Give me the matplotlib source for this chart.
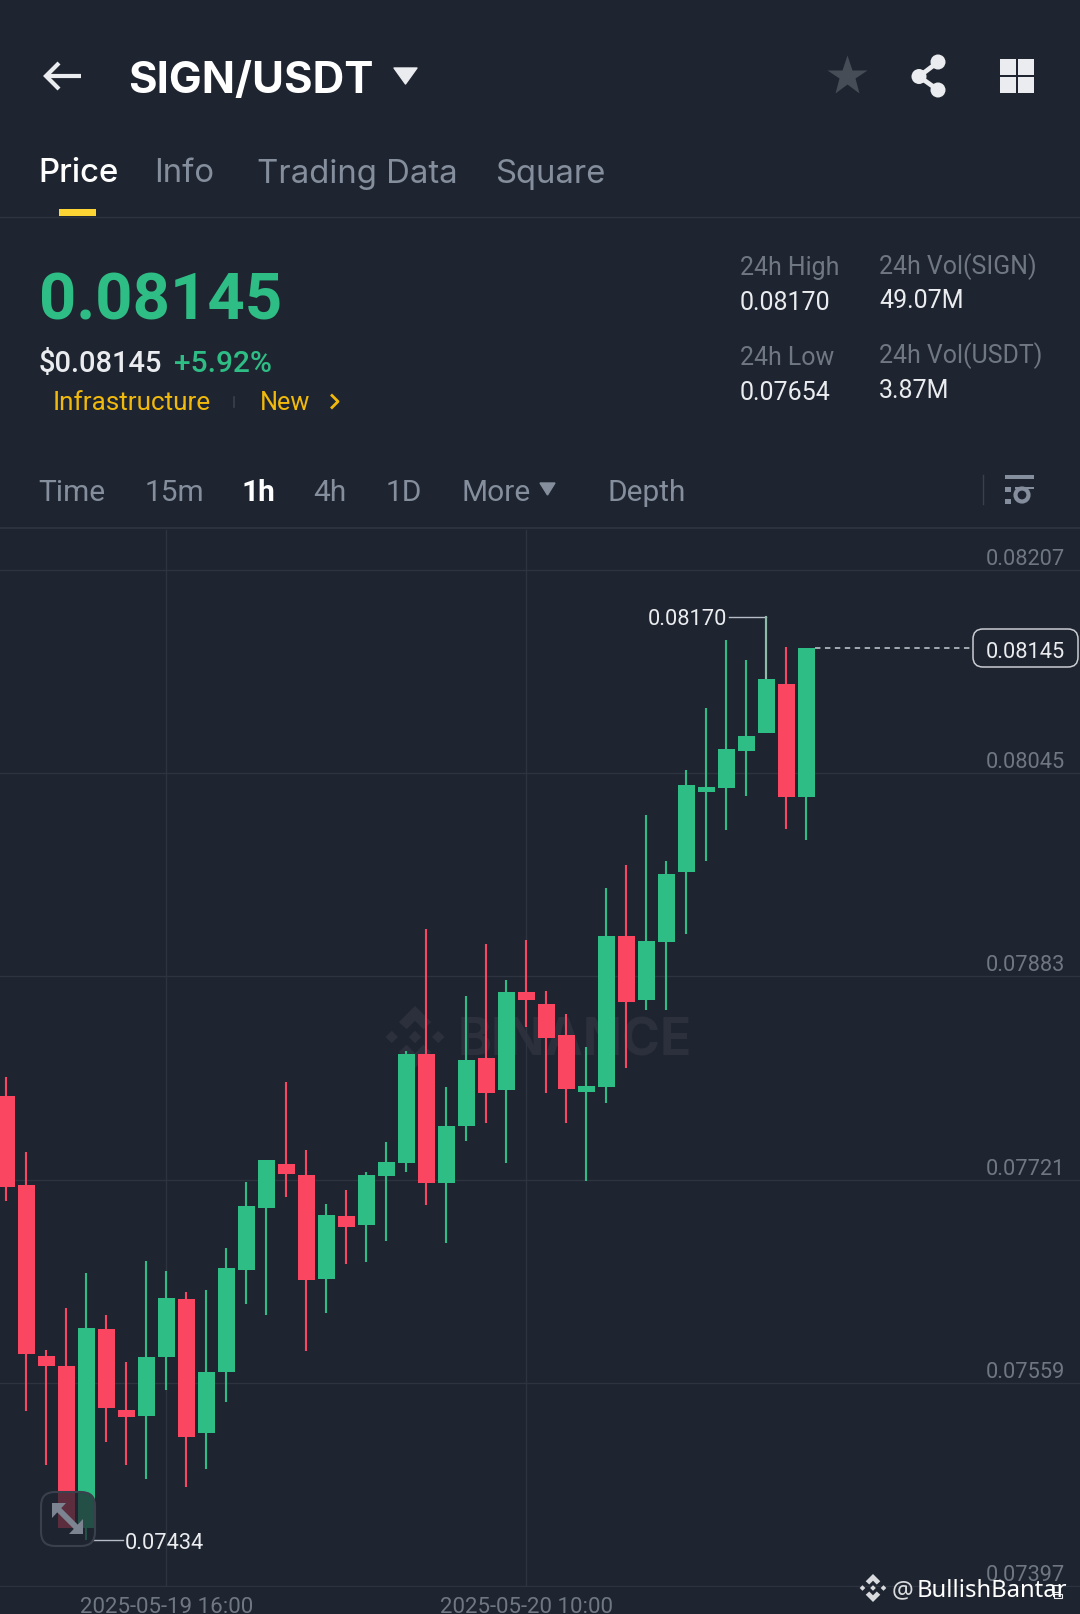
import matplotlib
matplotlib.use("Agg")
import matplotlib.pyplot as plt
from matplotlib.patches import FancyBboxPatch, Polygon, Circle, Rectangle

plt.rcParams["font.family"] = ["Roboto", "DejaVu Sans"]

W, H = 1080, 1614
BG = "#1F2530"
GRID = "#2E343F"
GREEN = "#2EBD85"
RED = "#FB4661"
GRAY = "#848E9C"
TICK = "#6F7782"
WHITE = "#EAECEF"
YELLOW = "#F0B90B"

# hourly candles
opens = [0.077879, 0.077169, 0.075806, 0.075726, 0.074435, 0.076017, 0.075375, 0.075328, 0.075798,
         0.076260, 0.075188, 0.075678, 0.076492, 0.076986, 0.077337, 0.077249, 0.076420, 0.076918,
         0.076850, 0.077241, 0.077345, 0.078208, 0.077185, 0.077640, 0.078182, 0.077921, 0.078710,
         0.078612, 0.078367, 0.077911, 0.077950, 0.079149, 0.078644, 0.079104, 0.079662, 0.080302,
         0.080334, 0.080631, 0.080772, 0.081166, 0.080262]
closes = [0.077153, 0.075822, 0.075726, 0.074435, 0.076029, 0.075391, 0.075320, 0.075798, 0.076268,
          0.075160, 0.075678, 0.076507, 0.076998, 0.077369, 0.077257, 0.076412, 0.076926, 0.076834,
          0.077249, 0.077352, 0.078208, 0.077185, 0.077640, 0.078168, 0.077903, 0.078710, 0.078644,
          0.078341, 0.077935, 0.077958, 0.079149, 0.078630, 0.079109, 0.079651, 0.080360, 0.080342,
          0.080647, 0.080749, 0.081205, 0.080262, 0.081450]
highs = [0.078030, 0.077428, 0.075854, 0.076189, 0.076468, 0.076129, 0.075758, 0.076559, 0.076484,
         0.076316, 0.076332, 0.076667, 0.077193, 0.077369, 0.077990, 0.077448, 0.077018, 0.077129,
         0.077273, 0.077509, 0.078237, 0.079210, 0.077950, 0.078678, 0.079090, 0.078803, 0.079117,
         0.078718, 0.078527, 0.078269, 0.079539, 0.079720, 0.080119, 0.079747, 0.080480, 0.080972,
         0.081514, 0.081355, 0.081700, 0.081460, 0.081450]
lows = [0.077042, 0.075367, 0.074937, 0.074435, 0.074340, 0.075120, 0.074937, 0.074821, 0.075530,
        0.074762, 0.074905, 0.075439, 0.076220, 0.076129, 0.077074, 0.075846, 0.076149, 0.076539,
        0.076551, 0.076723, 0.077273, 0.077010, 0.076707, 0.077520, 0.077663, 0.077339, 0.078431,
        0.077903, 0.077663, 0.077201, 0.077823, 0.078102, 0.078564, 0.078564, 0.079170, 0.079752,
        0.079999, 0.080270, 0.080772, 0.080002, 0.079920]

price_ticks = [0.08207, 0.08045, 0.07883, 0.07721, 0.07559, 0.07397]
date_idx = [8, 26]
date_labels = ["2025-05-19 16:00", "2025-05-20 10:00"]
last_price = 0.08145
high_price = 0.08170
low_price = 0.07434
high_idx = 38
low_idx = 4
last_idx = 40


def px_axes(zorder):
    a = fig.add_axes([0, 0, 1, 1], zorder=zorder)
    a.set_xlim(0, W)
    a.set_ylim(H, 0)
    a.axis("off")
    a.patch.set_alpha(0)
    return a


def binance_logo(a, cx, cy, r, color, zorder=3):
    # three small diamonds and two chevrons
    for dx in (-0.75, 0, 0.75):
        d = 0.2
        a.add_patch(Polygon([(cx + (dx - d) * r, cy), (cx + dx * r, cy - d * r),
                             (cx + (dx + d) * r, cy), (cx + dx * r, cy + d * r)],
                            fc=color, ec="none", zorder=zorder))
    for s in (-1, 1):
        pts = [(0, 1), (0.52, 0.48), (0.27, 0.25), (0, 0.52), (-0.27, 0.25), (-0.52, 0.48)]
        a.add_patch(Polygon([(cx + x * r, cy + s * y * r) for x, y in pts], fc=color, ec="none", zorder=zorder))


fig = plt.figure(figsize=(W / 100, H / 100), dpi=100, facecolor=BG)

# watermark sits under the candles
back = px_axes(0)
back.set_facecolor(BG)
binance_logo(back, 415, 1037, 31, "#2B303C")
back.text(458, 1055, "BINANCE", color="#2B303C", fontsize=37, family="Inter", fontweight="bold",
          va="baseline", ha="left")

# chart
top_px, bottom_px = 530, 1586
ax = fig.add_axes([0, 1 - bottom_px / H, 1, (bottom_px - top_px) / H], zorder=1)
ax.patch.set_alpha(0)
for name, sp in ax.spines.items():
    sp.set_visible(name == "bottom")
    sp.set_color(GRID)
xs = list(range(len(opens)))
colors = [GREEN if c >= o else RED for o, c in zip(opens, closes)]
ax.vlines(xs, lows, highs, colors=colors, linewidth=1.5, zorder=3)
ax.bar(xs, [abs(c - o) for o, c in zip(opens, closes)], bottom=[min(o, c) for o, c in zip(opens, closes)],
       width=0.87, color=colors, linewidth=0, zorder=3)
ax.set_xlim(-0.315, 53.685)
ax.set_ylim(0.07397, 0.08239)
ax.set_yticks(price_ticks)
ax.set_yticklabels([f"{p:.5f}" for p in price_ticks], fontsize=15.7, color=TICK, ha="right", va="bottom")
ax.yaxis.tick_right()
ax.tick_params(axis="y", length=0, pad=-11)
ax.set_xticks(date_idx)
ax.set_xticklabels(date_labels, fontsize=16, color=TICK)
ax.tick_params(axis="x", length=0, pad=8)
ax.grid(True, color=GRID, linewidth=1, zorder=0)

# high / low / last markers
ax.plot([high_idx - 1.85, high_idx], [high_price, high_price], color="#B7BDC6", lw=1, zorder=4)
ax.plot([high_idx, high_idx], [high_price, highs[high_idx] - 0.00049], color="#8FB9A8", lw=1.5, zorder=4)
ax.annotate(f"{high_price:.5f}", (high_idx - 1.98, high_price), xytext=(0, -6), textcoords="offset points",
            color=WHITE, fontsize=15.7, ha="right", va="baseline")
ax.plot([low_idx + 0.3, low_idx + 1.55 + 0.3], [low_price, low_price], color="#B7BDC6", lw=1, zorder=4)
ax.plot([last_idx + 0.45, last_idx + 8.2], [last_price, last_price], color="#AEB4BC", lw=1.3,
        ls=(0, (3, 2.5)), zorder=4)

ui = px_axes(2)

# price box on the right
ui.add_patch(FancyBboxPatch((973, 629), 105, 38, boxstyle="round,pad=0,rounding_size=10", fc=BG, ec="#C9CCD1", lw=1.1))
ui.text(1025, 657.5, f"{last_price:.5f}", color=WHITE, fontsize=15.7, ha="center", va="baseline")

# expand button over the first candles
ui.add_patch(FancyBboxPatch((41, 1492), 54, 54, boxstyle="round,pad=0,rounding_size=14",
                            fc=(0.12, 0.145, 0.19, 0.72), ec="#3A404C", lw=1.5))
ui.plot([58, 77], [1509, 1528], color="#7D8491", lw=4.2, solid_capstyle="butt")
ui.add_patch(Polygon([(52, 1503), (66, 1503), (52, 1518)], fc="#7D8491", ec="none"))
ui.add_patch(Polygon([(83, 1534), (69, 1534), (83, 1519)], fc="#7D8491", ec="none"))
ui.text(125, 1549, f"{low_price:.5f}", color=WHITE, fontsize=15.7, ha="left", va="baseline")

# header
ui.plot([47, 81], [76, 76], color=WHITE, lw=3, solid_capstyle="butt")
ui.plot([59, 46, 59], [63, 76, 89], color=WHITE, lw=3, solid_joinstyle="miter", solid_capstyle="butt")
ui.text(128, 93, "SIGN/USDT", color="white", fontsize=31.5, family="Inter", fontweight="bold", va="baseline")
ui.add_patch(Polygon([(394, 68), (417, 68), (405.5, 84)], fc=WHITE, ec=WHITE, lw=1, joinstyle="round"))
ui.plot([847], [76], marker="*", ms=30, color="#474D57", mec="none")
ui.plot([938, 919, 938], [62, 76.5, 90], color=WHITE, lw=3.4)
for cx, cy in [(919, 76.5), (938, 62), (938, 90)]:
    ui.add_patch(Circle((cx, cy), 7.5, fc=WHITE, ec="none"))
for rx, ry in [(1000, 59), (1018, 59), (1000, 77), (1018, 77)]:
    ui.add_patch(Rectangle((rx, ry), 15.5, 16, fc=WHITE, ec="none"))

# tabs
tab_x = [38, 154, 257, 495]
tab_names = ["Price", "Info", "Trading Data", "Square"]
for i, (tx, name) in enumerate(zip(tab_x, tab_names)):
    ui.text(tx, 182.5, name, color="white" if i == 0 else GRAY, fontsize=23.7, family="Inter",
            fontweight="medium" if i == 0 else "normal", va="baseline")
ui.add_patch(Rectangle((59, 208.5), 37, 7.5, fc="#FCD535", ec="none"))
ui.plot([0, W], [216.5, 216.5], color=GRID, lw=1)

# price block
ui.text(38.5, 319.5, "0.08145", color=GREEN, fontsize=47, fontweight="bold", va="baseline")
ui.text(39, 372, "$0.08145", color=WHITE, fontsize=21, fontweight="medium", va="baseline")
ui.text(174, 372, "+5.92%", color=GREEN, fontsize=21.5, fontweight="medium", va="baseline")
ui.text(53, 410, "Infrastructure", color=YELLOW, fontsize=18.8, va="baseline")
ui.plot([234, 234], [397, 407], color="#3A404C", lw=1.2)
ui.text(260, 410, "New", color=YELLOW, fontsize=18.2, va="baseline")
ui.plot([332, 338, 332], [395.5, 401.5, 407.5], color=YELLOW, lw=2)

# 24h stats
stat_labels = ["24h High", "24h Vol(SIGN)", "24h Low", "24h Vol(USDT)"]
stat_values = ["0.08170", "49.07M", "0.07654", "3.87M"]
stat_x = [740, 879, 740, 879]
label_base = [275.5, 274, 365, 363]
value_base = [310, 307.5, 400, 398]
for sx, lb, vb, lab, val in zip(stat_x, label_base, value_base, stat_labels, stat_values):
    ui.text(sx, lb, lab, color=TICK, fontsize=17.9, va="baseline")
    ui.text(sx, vb, val, color=WHITE, fontsize=18, va="baseline")

# interval row
row_x = [38, 145, 242, 313, 386, 461, 607]
row_names = ["Time", "15m", "1h", "4h", "1D", "More", "Depth"]
for tx, name in zip(row_x, row_names):
    active = name == "1h"
    ui.text(tx, 501, name, color="white" if active else GRAY, fontsize=21.5,
            fontweight="bold" if active else "normal", va="baseline")
ui.add_patch(Polygon([(540, 483), (555, 483), (547.5, 495)], fc=GRAY, ec=GRAY, lw=1))
ui.plot([983, 983], [475, 504], color="#3A404C", lw=1)
ui.add_patch(Rectangle((1005, 475), 29, 4, fc=GRAY, ec="none"))
ui.add_patch(Rectangle((1005, 487), 6, 5, fc=GRAY, ec="none"))
ui.add_patch(Rectangle((1005, 499), 6, 5, fc=GRAY, ec="none"))
ui.add_patch(Rectangle((1015, 487), 19, 2, fc=GRAY, ec="none"))
ui.add_patch(Circle((1022, 495), 6.5, fc=BG, ec=GRAY, lw=3))
ui.plot([0, W], [527.5, 527.5], color=GRID, lw=1.4)

# user watermark at the bottom right
binance_logo(ui, 873, 1588, 14, "#D8DADD")
ui.text(892, 1597, "@", color="#D8DADD", fontsize=17.5, family="Noto Sans", va="baseline")
ui.text(917, 1597, "BullishBantar", color="white", fontsize=17.2, family="Noto Sans", va="baseline")
ui.add_patch(Rectangle((1052, 1585), 8, 7, fc="none", ec=WHITE, lw=0.8))
ui.add_patch(Rectangle((1054, 1594), 8, 4, fc="none", ec=WHITE, lw=0.8))

fig.savefig("out.png", dpi=100, facecolor=BG)
